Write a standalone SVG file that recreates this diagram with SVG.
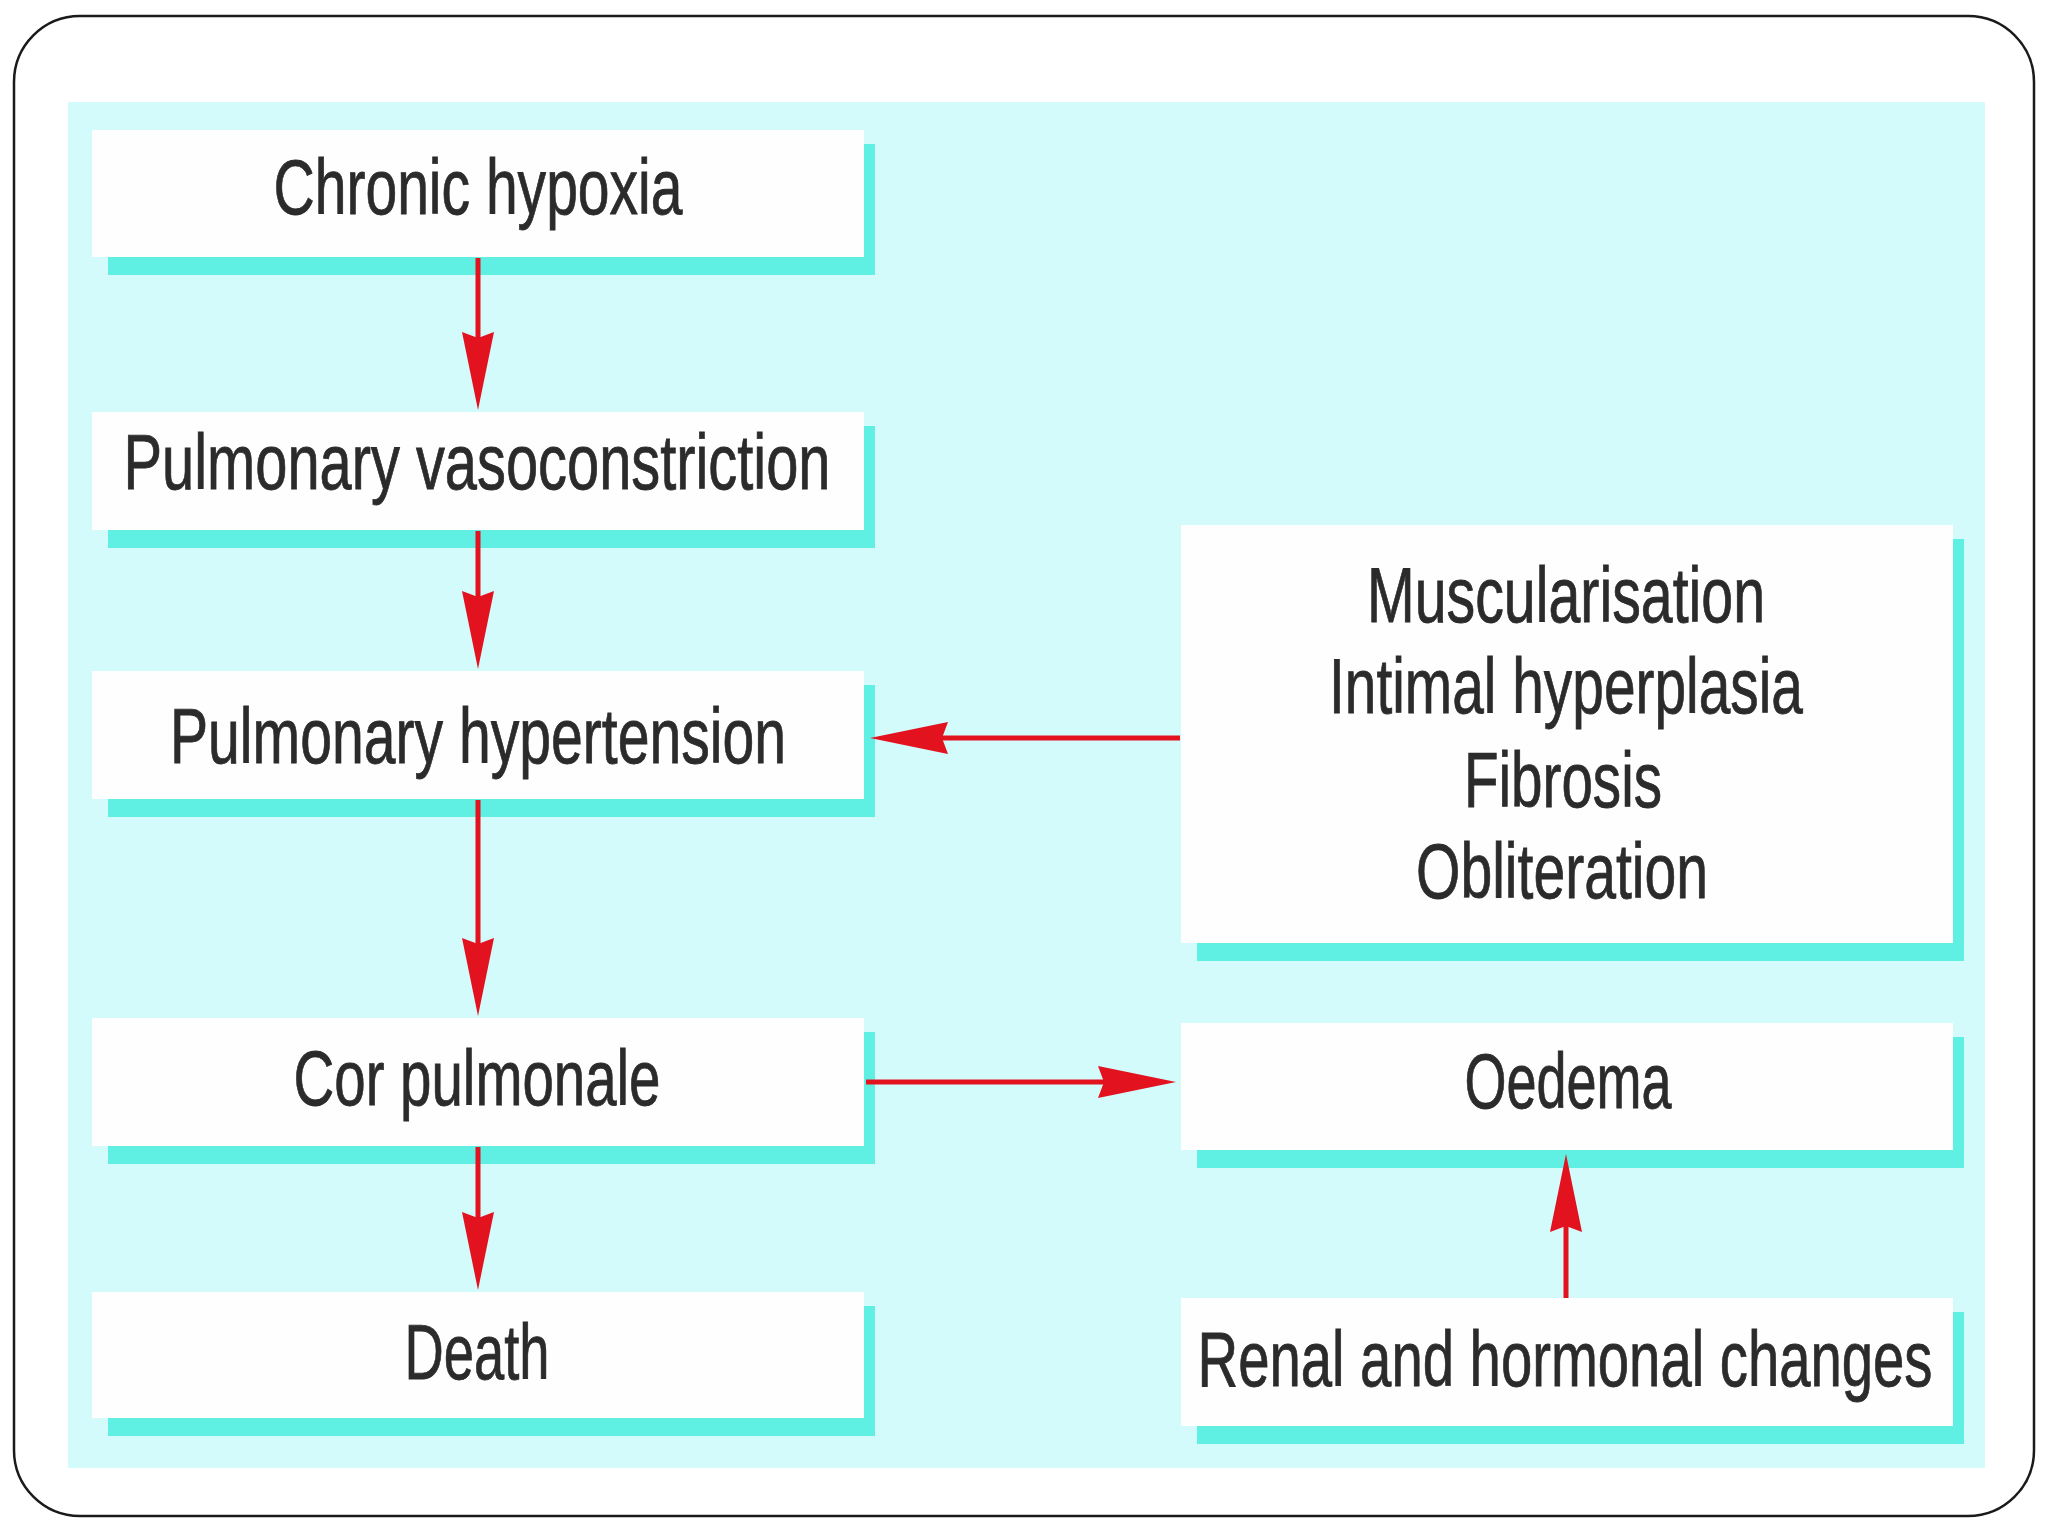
<svg xmlns="http://www.w3.org/2000/svg" width="2048" height="1536" viewBox="0 0 2048 1536">
  <defs>
    <style>
      .frame { fill: #ffffff; stroke: #1a1a1a; stroke-width: 2.5; }
      .bg { fill: #d3fbfb; }
      .shadow { fill: #5ff0e3; }
      .box { fill: #fefefe; }
      .label { font-family: "Liberation Sans", Arial, sans-serif; font-size: 78px; fill: #2b2b2b; stroke: #2b2b2b; stroke-width: 0.8; text-anchor: middle; }
      .conn { stroke: #e2121f; stroke-width: 5; fill: none; marker-end: url(#arrow); }
    </style>
    <marker id="arrow" markerUnits="userSpaceOnUse" markerWidth="80" markerHeight="36" refX="58" refY="18" orient="auto">
      <path d="M0,2 L78,18 L0,34 L6,18 Z" fill="#e2121f"/>
    </marker>
  </defs>

  <rect class="frame" x="14" y="16" width="2020" height="1500" rx="66" ry="66"/>
  <rect class="bg" x="68" y="102" width="1917" height="1366"/>

  <g id="chronic-hypoxia">
    <rect class="shadow" x="108" y="144" width="767" height="131"/>
    <rect class="box" x="92" y="130" width="772" height="127"/>
    <text class="label" x="478" y="214" textLength="409" lengthAdjust="spacingAndGlyphs">Chronic hypoxia</text>
  </g>

  <g id="pulmonary-vasoconstriction">
    <rect class="shadow" x="108" y="426" width="767" height="122"/>
    <rect class="box" x="92" y="412" width="772" height="118"/>
    <text class="label" x="477" y="489" textLength="707" lengthAdjust="spacingAndGlyphs">Pulmonary vasoconstriction</text>
  </g>

  <g id="pulmonary-hypertension">
    <rect class="shadow" x="108" y="685" width="767" height="132"/>
    <rect class="box" x="92" y="671" width="772" height="128"/>
    <text class="label" x="478" y="763" textLength="616" lengthAdjust="spacingAndGlyphs">Pulmonary hypertension</text>
  </g>

  <g id="cor-pulmonale">
    <rect class="shadow" x="108" y="1032" width="767" height="132"/>
    <rect class="box" x="92" y="1018" width="772" height="128"/>
    <text class="label" x="477" y="1105" textLength="367" lengthAdjust="spacingAndGlyphs">Cor pulmonale</text>
  </g>

  <g id="death">
    <rect class="shadow" x="108" y="1306" width="767" height="130"/>
    <rect class="box" x="92" y="1292" width="772" height="126"/>
    <text class="label" x="477" y="1379" textLength="145" lengthAdjust="spacingAndGlyphs">Death</text>
  </g>

  <g id="vascular-changes">
    <rect class="shadow" x="1197" y="539" width="767" height="422"/>
    <rect class="box" x="1181" y="525" width="772" height="418"/>
    <text class="label" x="1566" y="622" textLength="398" lengthAdjust="spacingAndGlyphs">Muscularisation</text>
    <text class="label" x="1566" y="713" textLength="474" lengthAdjust="spacingAndGlyphs">Intimal hyperplasia</text>
    <text class="label" x="1563" y="807" textLength="198" lengthAdjust="spacingAndGlyphs">Fibrosis</text>
    <text class="label" x="1562" y="898" textLength="292" lengthAdjust="spacingAndGlyphs">Obliteration</text>
  </g>

  <g id="oedema">
    <rect class="shadow" x="1197" y="1037" width="767" height="131"/>
    <rect class="box" x="1181" y="1023" width="772" height="127"/>
    <text class="label" x="1568" y="1108" textLength="207" lengthAdjust="spacingAndGlyphs">Oedema</text>
  </g>

  <g id="renal-hormonal">
    <rect class="shadow" x="1197" y="1312" width="767" height="132"/>
    <rect class="box" x="1181" y="1298" width="772" height="128"/>
    <text class="label" x="1565" y="1386" textLength="735" lengthAdjust="spacingAndGlyphs">Renal and hormonal changes</text>
  </g>

  <g id="connectors">
    <line class="conn" x1="478" y1="258" x2="478" y2="390"/>
    <line class="conn" x1="478" y1="531" x2="478" y2="649"/>
    <line class="conn" x1="478" y1="800" x2="478" y2="996"/>
    <line class="conn" x1="478" y1="1147" x2="478" y2="1270"/>
    <line class="conn" x1="1180" y1="738" x2="890" y2="738"/>
    <line class="conn" x1="866" y1="1082" x2="1156" y2="1082"/>
    <line class="conn" x1="1566" y1="1298" x2="1566" y2="1174"/>
  </g>
</svg>
